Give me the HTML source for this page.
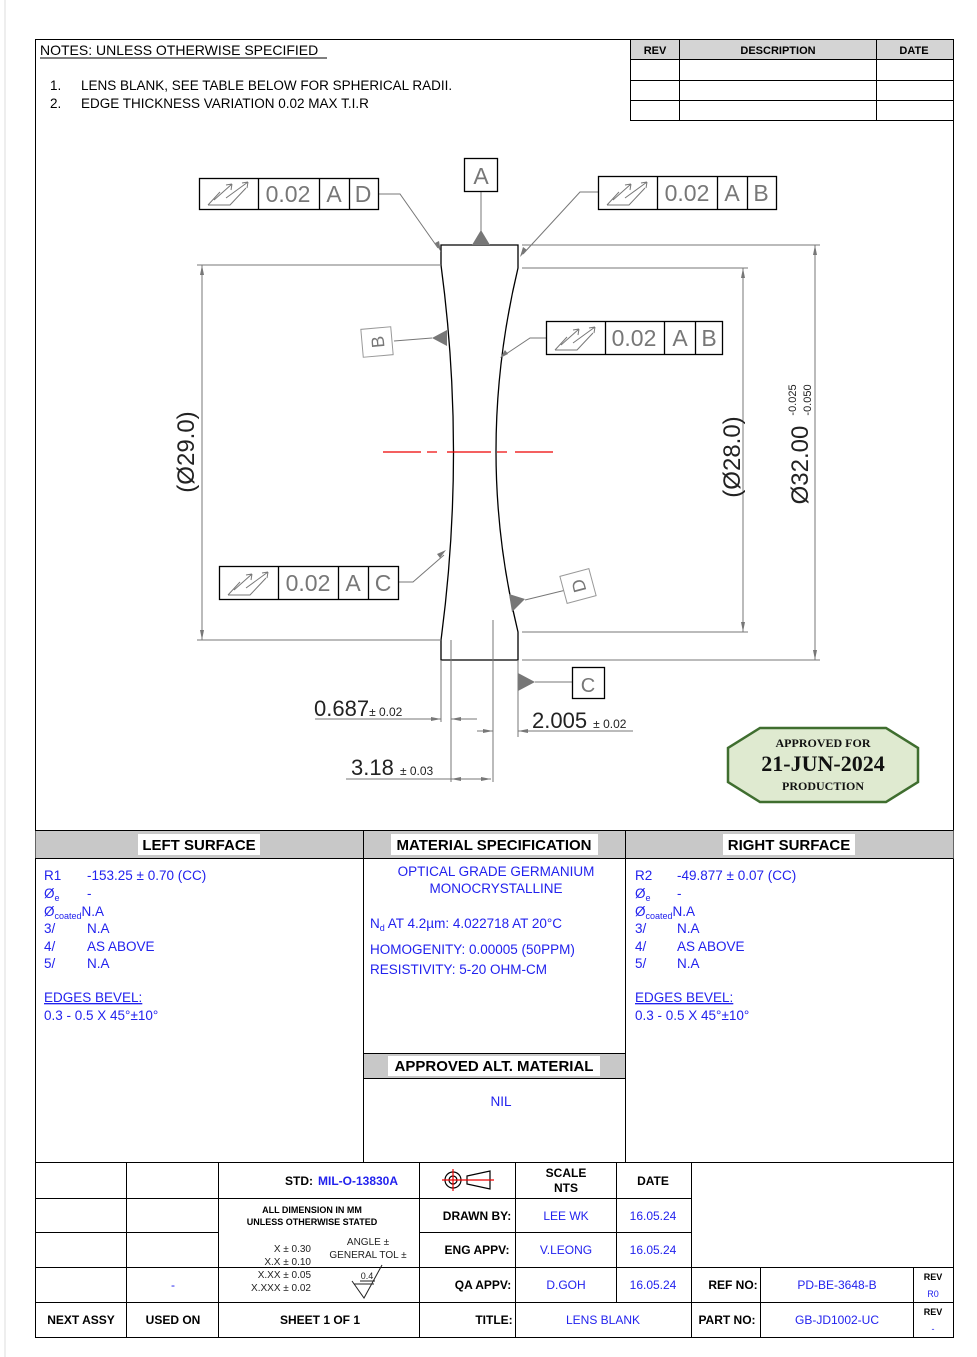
<!DOCTYPE html>
<html><head><meta charset="utf-8"><style>
html,body{margin:0;padding:0;background:#fff}
svg{display:block}
text{font-family:"Liberation Sans",Arial,sans-serif}
text.serif{font-family:"Liberation Serif","DejaVu Serif",serif}
</style></head><body>
<svg width="977" height="1357" viewBox="0 0 977 1357" xmlns="http://www.w3.org/2000/svg">
<rect width="977" height="1357" fill="#fff"/>
<line x1="5" y1="0" x2="5" y2="1357" stroke="#ddd"/>
<rect x="35.5" y="39.5" width="918" height="1298" fill="none" stroke="#000"/>
<text x="40" y="55" font-size="14">NOTES: UNLESS OTHERWISE SPECIFIED</text>
<line x1="40" y1="58" x2="327" y2="58" stroke="#000"/>
<text x="50" y="90" font-size="13.5">1.</text><text x="81" y="90" font-size="13.5">LENS BLANK, SEE TABLE BELOW FOR SPHERICAL RADII.</text>
<text x="50" y="108" font-size="13.5">2.</text><text x="81" y="108" font-size="13.5">EDGE THICKNESS VARIATION 0.02 MAX T.I.R</text>
<rect x="630.5" y="39.5" width="323" height="20" fill="#d4d4d4"/>
<g stroke="#000" fill="none">
<rect x="630.5" y="39.5" width="323" height="81"/>
<line x1="630" y1="59.5" x2="953" y2="59.5"/><line x1="630" y1="80.5" x2="953" y2="80.5"/><line x1="630" y1="100.5" x2="953" y2="100.5"/>
<line x1="679.5" y1="39" x2="679.5" y2="121"/><line x1="876.5" y1="39" x2="876.5" y2="121"/>
</g>
<text x="655" y="54" font-size="11" font-weight="bold" text-anchor="middle">REV</text>
<text x="778" y="54" font-size="11" font-weight="bold" text-anchor="middle">DESCRIPTION</text>
<text x="914" y="54" font-size="11" font-weight="bold" text-anchor="middle">DATE</text>

<g stroke="#000" stroke-width="1.3" fill="none">
<path d="M441,245 L518,245 L518,268 Q474,452 518,632 L518,660 L441,660 L441,640 Q466,452 441,265 Z"/>
</g>
<g stroke="#777" stroke-width="1" fill="none">
<line x1="451" y1="640" x2="451" y2="782"/>
<line x1="441" y1="660" x2="441" y2="722"/>
<line x1="493" y1="620" x2="493" y2="782"/>
<line x1="518" y1="660" x2="518" y2="737"/>
<line x1="197" y1="265" x2="441" y2="265"/><line x1="197" y1="640" x2="441" y2="640"/>
<line x1="202" y1="265" x2="202" y2="640"/>
<line x1="522" y1="268" x2="748" y2="268"/><line x1="522" y1="632" x2="748" y2="632"/>
<line x1="743" y1="268" x2="743" y2="632"/>
<line x1="522" y1="245" x2="820" y2="245"/><line x1="522" y1="660" x2="820" y2="660"/>
<line x1="815" y1="245" x2="815" y2="660"/>
<line x1="315" y1="719" x2="441" y2="719"/><line x1="451" y1="719" x2="477" y2="719"/>
<line x1="477" y1="731" x2="493" y2="731"/><line x1="518" y1="731" x2="633" y2="731"/>
<line x1="346" y1="779" x2="491" y2="779"/>
<polyline points="378,194 400,194 438,248"/>
<polyline points="598,192 580,192 523,254"/>
<polyline points="546,338 530,338 503,356"/>
<polyline points="398,582 413,582 444,555"/>
<line x1="481" y1="191" x2="481" y2="232"/>
<line x1="394" y1="341" x2="432" y2="338"/>
<line x1="525" y1="600" x2="566" y2="590"/>
<line x1="535" y1="682" x2="572" y2="682"/>
</g>
<g fill="#777">
<path d="M202,265 l-2,10 l4,0 z M202,640 l-2,-10 l4,0 z"/>
<path d="M743,268 l-2,10 l4,0 z M743,632 l-2,-10 l4,0 z"/>
<path d="M815,245 l-2,10 l4,0 z M815,660 l-2,-10 l4,0 z"/>
<path d="M441,719 l-10,-2 l0,4 z M451,719 l10,-2 l0,4 z"/>
<path d="M493,731 l-10,-2 l0,4 z M518,731 l10,-2 l0,4 z"/>
<path d="M451,779 l10,-2 l0,4 z M491,779 l-10,-2 l0,4 z"/>
<path d="M441,252 l-6,-9 l4,-2 z"/><path d="M520,257 l3,-10 l4,3 z"/>
<path d="M500,358 l5,-8 l3,4 z"/><path d="M446,550 l-6,8 l-3,-4 z"/>
<path d="M472,245 L481,230 L490,245 Z"/>
<path d="M447,330 L432,338 L447,346 Z"/>
<path d="M509,594 L525,599 L512,612 Z"/>
<path d="M518,673 L535,682 L518,691 Z"/>
</g>
<g stroke="#e00" stroke-width="1.2">
<line x1="383" y1="452" x2="421" y2="452"/><line x1="427" y1="452" x2="437" y2="452"/>
<line x1="447" y1="452" x2="491" y2="452"/><line x1="497" y1="452" x2="507" y2="452"/>
<line x1="515" y1="452" x2="553" y2="452"/>
</g>

<g font-size="23" fill="#777" text-anchor="middle">
<g stroke="#000" stroke-width="1.3" fill="none">
<rect x="199.5" y="178.5" width="179" height="31"/>
<line x1="258.5" y1="178" x2="258.5" y2="210"/><line x1="319.5" y1="178" x2="319.5" y2="210"/><line x1="349.5" y1="178" x2="349.5" y2="210"/>
<rect x="598.5" y="176.5" width="178" height="33"/>
<line x1="657.5" y1="176" x2="657.5" y2="210"/><line x1="717.5" y1="176" x2="717.5" y2="210"/><line x1="747.5" y1="176" x2="747.5" y2="210"/>
<rect x="546.5" y="321.5" width="176" height="33"/>
<line x1="605.5" y1="321" x2="605.5" y2="355"/><line x1="664.5" y1="321" x2="664.5" y2="355"/><line x1="695.5" y1="321" x2="695.5" y2="355"/>
<rect x="219.5" y="566.5" width="179" height="33"/>
<line x1="278.5" y1="566" x2="278.5" y2="600"/><line x1="338.5" y1="566" x2="338.5" y2="600"/><line x1="368.5" y1="566" x2="368.5" y2="600"/>
<rect x="464.5" y="158.5" width="33" height="33"/>
<rect x="572.5" y="667.5" width="32" height="31"/>
</g>
<g stroke="#777" fill="none" stroke-width="1">
<path d="M208,205 L230,205 L246,188 M208,205 L220,192 M214,200 L232,184 M226,198 L248,182 M232,184 l-6,1 M232,184 l-1,6 M248,182 l-6,1 M248,182 l-1,6"/>
<path d="M607,205 L629,205 L645,188 M607,205 L619,192 M613,200 L631,184 M625,198 L647,182 M631,184 l-6,1 M631,184 l-1,6 M647,182 l-6,1 M647,182 l-1,6"/>
<path d="M555,350 L577,350 L593,333 M555,350 L567,337 M561,345 L579,329 M573,343 L595,327 M579,329 l-6,1 M579,329 l-1,6 M595,327 l-6,1 M595,327 l-1,6"/>
<path d="M228,595 L250,595 L266,578 M228,595 L240,582 M234,590 L252,574 M246,588 L268,572 M252,574 l-6,1 M252,574 l-1,6 M268,572 l-6,1 M268,572 l-1,6"/>
</g>
<text x="288" y="202">0.02</text><text x="334" y="202">A</text><text x="363" y="202">D</text>
<text x="687" y="201">0.02</text><text x="732" y="201">A</text><text x="761" y="201">B</text>
<text x="634" y="346">0.02</text><text x="680" y="346">A</text><text x="709" y="346">B</text>
<text x="308" y="591">0.02</text><text x="353" y="591">A</text><text x="383" y="591">C</text>
<text x="481" y="184">A</text>
<text x="588" y="692" font-size="20">C</text>
</g>
<g transform="translate(377,342) rotate(-95)">
<rect x="-14" y="-15" width="28" height="30" fill="#fff" stroke="#999"/>
<text x="0" y="7" font-size="18" fill="#777" text-anchor="middle">B</text></g>
<g transform="translate(578,586) rotate(-105)">
<rect x="-14" y="-15" width="28" height="30" fill="#fff" stroke="#999"/>
<text x="0" y="7" font-size="18" fill="#777" text-anchor="middle">D</text></g>

<text transform="translate(194,452) rotate(-90)" font-size="24" text-anchor="middle" fill="#222">(Ø29.0)</text>
<text transform="translate(740,457) rotate(-90)" font-size="24" text-anchor="middle" fill="#222">(Ø28.0)</text>
<text transform="translate(808,465) rotate(-90)" font-size="24" text-anchor="middle" fill="#222">Ø32.00</text>
<text transform="translate(796,400) rotate(-90)" font-size="11" text-anchor="middle" fill="#222">-0.025</text>
<text transform="translate(811,400) rotate(-90)" font-size="11" text-anchor="middle" fill="#222">-0.050</text>
<text x="314" y="716" font-size="22" fill="#222">0.687<tspan font-size="12">± 0.02</tspan></text>
<text x="532" y="728" font-size="22" fill="#222">2.005 <tspan font-size="12">± 0.02</tspan></text>
<text x="351" y="775" font-size="22" fill="#222">3.18 <tspan font-size="12">± 0.03</tspan></text>

<polygon points="760,728 886,728 918,748 918,782 886,802 760,802 728,782 728,748" fill="#dfead0" stroke="#3f6e2f" stroke-width="2.5"/>
<g font-weight="bold" text-anchor="middle" fill="#111">
<text class="serif" x="823" y="747" font-size="12">APPROVED FOR</text>
<text class="serif" x="823" y="771" font-size="22">21-JUN-2024</text>
<text class="serif" x="823" y="790" font-size="12">PRODUCTION</text>
</g>

<rect x="35.5" y="830.5" width="918" height="28" fill="#c8c8c8"/>
<rect x="363.5" y="1053.5" width="262" height="25" fill="#c8c8c8"/>
<g stroke="#000" fill="none">
<line x1="35" y1="830.5" x2="953" y2="830.5"/><line x1="35" y1="858.5" x2="953" y2="858.5"/>
<line x1="363.5" y1="830" x2="363.5" y2="1162"/><line x1="625.5" y1="830" x2="625.5" y2="1162"/>
<line x1="363" y1="1053.5" x2="625" y2="1053.5"/><line x1="363" y1="1078.5" x2="625" y2="1078.5"/>
</g>
<rect x="138" y="834" width="122" height="21" fill="#fff"/>
<rect x="391" y="834" width="207" height="21" fill="#fff"/>
<rect x="723" y="834" width="132" height="21" fill="#fff"/>
<rect x="388" y="1056" width="212" height="20" fill="#fff"/>
<g font-size="15" font-weight="bold" text-anchor="middle">
<text x="199" y="850">LEFT SURFACE</text>
<text x="494" y="850">MATERIAL SPECIFICATION</text>
<text x="789" y="850">RIGHT SURFACE</text>
<text x="494" y="1071">APPROVED ALT. MATERIAL</text>
</g>
<g font-size="13.5" fill="#2222ee">
<text x="44" y="880">R1</text><text x="87" y="880">-153.25 ± 0.70 (CC)</text>
<text x="44" y="898">Ø<tspan font-size="9" dy="3">e</tspan></text><text x="87" y="898">-</text>
<text x="44" y="916">Ø<tspan font-size="9" dy="3">coated</tspan><tspan dy="-3">N.A</tspan></text>
<text x="44" y="933">3/</text><text x="87" y="933">N.A</text>
<text x="44" y="951">4/</text><text x="87" y="951">AS ABOVE</text>
<text x="44" y="968">5/</text><text x="87" y="968">N.A</text>
<text x="44" y="1002" text-decoration="underline">EDGES BEVEL:</text>
<text x="44" y="1020">0.3 - 0.5 X 45°±10°</text>
<text x="635" y="880">R2</text><text x="677" y="880">-49.877 ± 0.07 (CC)</text>
<text x="635" y="898">Ø<tspan font-size="9" dy="3">e</tspan></text><text x="677" y="898">-</text>
<text x="635" y="916">Ø<tspan font-size="9" dy="3">coated</tspan><tspan dy="-3">N.A</tspan></text>
<text x="635" y="933">3/</text><text x="677" y="933">N.A</text>
<text x="635" y="951">4/</text><text x="677" y="951">AS ABOVE</text>
<text x="635" y="968">5/</text><text x="677" y="968">N.A</text>
<text x="635" y="1002" text-decoration="underline">EDGES BEVEL:</text>
<text x="635" y="1020">0.3 - 0.5 X 45°±10°</text>
<text x="496" y="876" text-anchor="middle">OPTICAL GRADE GERMANIUM</text>
<text x="496" y="893" text-anchor="middle">MONOCRYSTALLINE</text>
<text x="370" y="928">N<tspan font-size="9" dy="3">d</tspan><tspan dy="-3"> AT 4.2µm: 4.022718 AT 20°C</tspan></text>
<text x="370" y="954">HOMOGENITY: 0.00005 (50PPM)</text>
<text x="370" y="974">RESISTIVITY: 5-20 OHM-CM</text>
<text x="501" y="1106" text-anchor="middle">NIL</text>
</g>

<g stroke="#000" fill="none">
<line x1="35" y1="1162.5" x2="953" y2="1162.5"/>
<line x1="35" y1="1198.5" x2="691" y2="1198.5"/>
<line x1="35" y1="1232.5" x2="218" y2="1232.5"/><line x1="419" y1="1232.5" x2="691" y2="1232.5"/>
<line x1="35" y1="1267.5" x2="953" y2="1267.5"/>
<line x1="35" y1="1302.5" x2="953" y2="1302.5"/>
<line x1="126.5" y1="1162" x2="126.5" y2="1337"/>
<line x1="218.5" y1="1162" x2="218.5" y2="1337"/>
<line x1="419.5" y1="1162" x2="419.5" y2="1337"/>
<line x1="515.5" y1="1162" x2="515.5" y2="1337"/>
<line x1="616.5" y1="1162" x2="616.5" y2="1302"/>
<line x1="691.5" y1="1162" x2="691.5" y2="1337"/>
<line x1="760.5" y1="1267" x2="760.5" y2="1337"/>
<line x1="913.5" y1="1267" x2="913.5" y2="1337"/>
</g>
<g font-size="12" font-weight="bold" text-anchor="middle">
<text x="566" y="1177">SCALE</text><text x="566" y="1192">NTS</text>
<text x="653" y="1185">DATE</text>
<text x="477" y="1220">DRAWN BY:</text>
<text x="477" y="1254">ENG APPV:</text>
<text x="483" y="1289">QA APPV:</text>
<text x="494" y="1324">TITLE:</text>
<text x="733" y="1289">REF NO:</text>
<text x="727" y="1324">PART NO:</text>
<text x="81" y="1324">NEXT ASSY</text>
<text x="173" y="1324">USED ON</text>
<text x="320" y="1324">SHEET 1 OF 1</text>
<text x="313" y="1185" text-anchor="end">STD:</text>
<text x="933" y="1280" font-size="9">REV</text>
<text x="933" y="1315" font-size="9">REV</text>
<text x="312" y="1213" font-size="9">ALL DIMENSION IN MM</text>
<text x="312" y="1225" font-size="9">UNLESS OTHERWISE STATED</text>
</g>
<g font-size="12" fill="#2222ee" text-anchor="middle">
<text x="318" y="1185" font-weight="bold" text-anchor="start">MIL-O-13830A</text>
<text x="566" y="1220">LEE WK</text><text x="653" y="1220">16.05.24</text>
<text x="566" y="1254">V.LEONG</text><text x="653" y="1254">16.05.24</text>
<text x="566" y="1289">D.GOH</text><text x="653" y="1289">16.05.24</text>
<text x="603" y="1324">LENS BLANK</text>
<text x="837" y="1289">PD-BE-3648-B</text>
<text x="837" y="1324">GB-JD1002-UC</text>
<text x="933" y="1297" font-size="9">R0</text>
<text x="933" y="1332" font-size="9">-</text>
<text x="173" y="1289">-</text>
</g>
<g font-size="10" fill="#222">
<text x="311" y="1252" text-anchor="end">X ± 0.30</text>
<text x="311" y="1265" text-anchor="end">X.X ± 0.10</text>
<text x="311" y="1278" text-anchor="end">X.XX ± 0.05</text>
<text x="311" y="1291" text-anchor="end">X.XXX ± 0.02</text>
<text x="368" y="1245" text-anchor="middle">ANGLE ±</text>
<text x="368" y="1258" text-anchor="middle">GENERAL TOL ±</text>
<text x="367" y="1279" text-anchor="middle" font-size="9">0.4</text>
</g>
<g stroke="#222" fill="none">
<line x1="360" y1="1281" x2="375" y2="1281"/>
<path d="M352,1281 L364,1298 L382,1265"/>
<line x1="354" y1="1284" x2="374" y2="1284"/>
</g>
<g stroke="#000" fill="none" stroke-width="1.2">
<circle cx="453" cy="1180" r="8"/><circle cx="453" cy="1180" r="4"/>
<path d="M467,1176 L490,1171 L490,1189 L467,1184 Z"/>
</g>
<g stroke="#e00" stroke-width="1.2">
<line x1="442" y1="1180" x2="494" y2="1180"/><line x1="453" y1="1169" x2="453" y2="1191"/>
</g>
</svg>
</body></html>
